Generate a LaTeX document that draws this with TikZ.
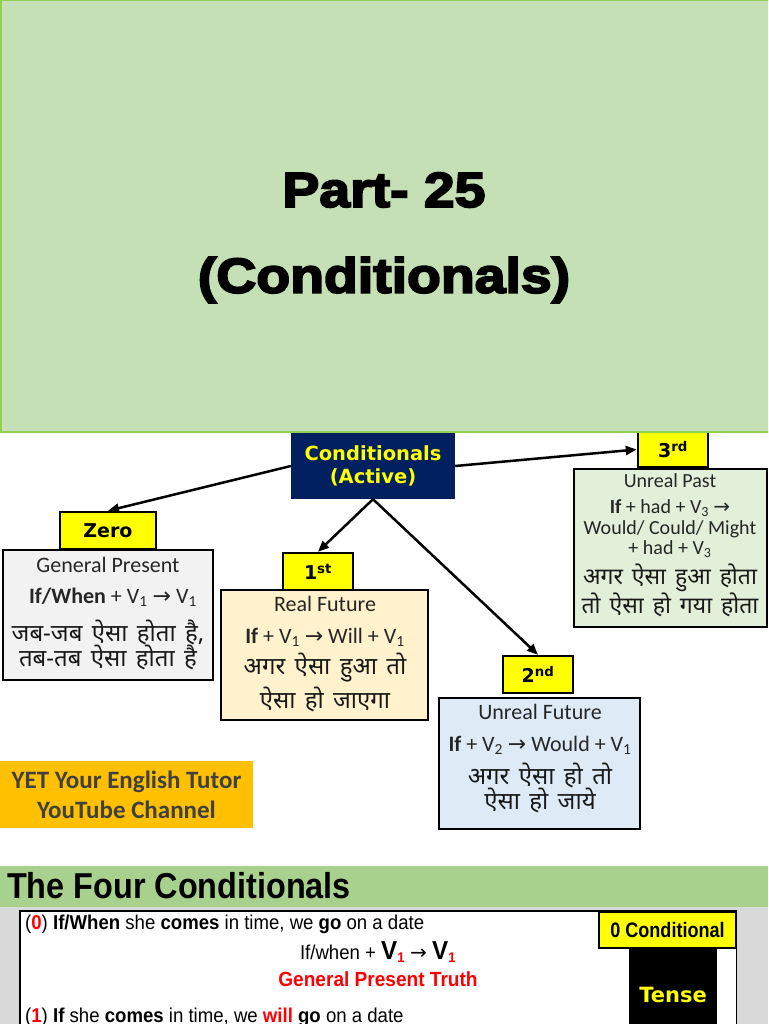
\documentclass[tikz,border=0pt]{standalone}
\usepackage{fontspec}
\usetikzlibrary{arrows.meta}
\setmainfont{Carlito}
\newfontfamily\hindi[Script=Devanagari,WordSpace=1.8]{Noto Sans}
\newfontfamily\hinditight[Script=Devanagari,WordSpace=1.5]{Noto Sans}
\newfontfamily\verd{DejaVu Sans}
\newfontfamily\blackfont[FakeBold=4,FakeStretch=1.13]{Liberation Sans Bold}
\newfontfamily\condb[FakeStretch=0.9]{Liberation Sans Bold}
\newfontfamily\condc[FakeStretch=0.86]{Liberation Sans Bold}
\newfontfamily\tah[FakeStretch=0.93]{Liberation Sans}
\definecolor{topgreen}{RGB}{197,224,180}
\definecolor{topborder}{RGB}{146,208,80}
\definecolor{navy}{RGB}{0,32,96}
\definecolor{lblyellow}{RGB}{255,255,0}
\definecolor{zerofill}{RGB}{242,242,242}
\definecolor{onefill}{RGB}{255,242,204}
\definecolor{twofill}{RGB}{222,235,247}
\definecolor{threefill}{RGB}{226,240,217}
\definecolor{yetfill}{RGB}{255,192,0}
\definecolor{yettext}{RGB}{64,64,64}
\definecolor{barfill}{RGB}{169,209,142}
\definecolor{grayfill}{RGB}{217,217,217}
\definecolor{redtxt}{RGB}{255,0,0}
\newcommand\myarr{{\verd →}}
\newcommand\vsub[1]{V\textsubscript{#1}}
\tikzset{
  lbl/.style={draw=black, line width=2.5, fill=lblyellow, inner sep=0, font=\verd\bfseries\fontsize{19}{22}\selectfont},
  card/.style={draw=black, line width=2.5, inner sep=0},
  txt/.style={inner sep=0, text=black!85, font=\fontsize{22}{26}\selectfont},
  txts/.style={inner sep=0, text=black!85, font=\fontsize{20}{22}\selectfont},
  hin/.style={inner sep=0, text=black!90, font=\hindi\fontsize{24}{28}\selectfont},
  hins/.style={inner sep=0, text=black!90, font=\hinditight\fontsize{23}{26}\selectfont},
  arr/.style={line width=2.5, -{Triangle[length=11,width=9]}},
  tahtxt/.style={inner sep=0, font=\tah\fontsize{20}{24}\selectfont},
}
\begin{document}
\begin{tikzpicture}[x=1pt,y=-1pt]
\useasboundingbox (0,0) rectangle (768,1024);
\clip (0,0) rectangle (768,1024);
\fill[white] (0,0) rectangle (768,1024);

% centre node
\node[fill=navy, minimum width=164, minimum height=66, inner sep=0, align=center,
      text=lblyellow, font=\verd\bfseries\fontsize{19.5}{23}\selectfont] (cond) at (373,466) {Conditionals\\(Active)};

% zero
\node[lbl, minimum width=96, minimum height=37] (l0) at (108,530.5) {Zero};
\node[card, fill=zerofill, minimum width=210, minimum height=130] (b0) at (108,615) {};
\node[txt] (b0a) at (108,565) {General Present};
\node[txt] (b0b) at (113,597) {\textbf{If/When} + \vsub{1} \myarr{} \vsub{1}};
\node[hin] (b0c) at (108,632) {जब-जब ऐसा होता है,};
\node[hin] (b0d) at (108,657) {तब-तब ऐसा होता है};

% first
\node[lbl, minimum width=70, minimum height=37] (l1) at (318,571.5) {1\textsuperscript{st}};
\node[card, fill=onefill, minimum width=207, minimum height=130] (b1) at (324.5,655) {};
\node[txt] (b1a) at (325,604) {Real Future};
\node[txt] (b1b) at (325,637) {\textbf{If} + \vsub{1} \myarr{} Will + \vsub{1}};
\node[hin] (b1c) at (325,668) {अगर ऐसा हुआ तो};
\node[hin] (b1d) at (325,699) {ऐसा हो जाएगा};

% second
\node[lbl, minimum width=70, minimum height=37] (l2) at (538,674.5) {2\textsuperscript{nd}};
\node[card, fill=twofill, minimum width=201, minimum height=131] (b2) at (539.5,763.5) {};
\node[txt] (b2a) at (540,712) {Unreal Future};
\node[txt] (b2b) at (540,745) {\textbf{If} + \vsub{2} \myarr{} Would + \vsub{1}};
\node[hin] (b2c) at (540,775) {अगर ऐसा हो तो};
\node[hin] (b2d) at (540,800) {ऐसा हो जाये};

% third
\node[lbl, minimum width=70, minimum height=36] (l3) at (673,449.5) {3\textsuperscript{rd}};
\node[card, fill=threefill, minimum width=193, minimum height=158] (b3) at (670.5,548) {};
\node[txts] (b3a) at (670,481) {Unreal Past};
\node[txts] (b3b) at (670,508) {\textbf{If} + had + \vsub{3} \myarr};
\node[txts] (b3c) at (670,529) {Would/ Could/ Might};
\node[txts] (b3d) at (670,549) {+ had + \vsub{3}};
\node[hins] (b3e) at (670,578) {अगर ऐसा हुआ होता};
\node[hins] (b3f) at (670,605) {तो ऐसा हो गया होता};

% arrows
\draw[arr] (cond.west) -- (l0.north);
\draw[arr] (cond.south) -- (l1.north);
\draw[arr] (cond.south) -- (l2.north);
\draw[arr] (cond.east) -- (l3.west);

% YET box
\node[fill=yetfill, minimum width=253, minimum height=67, inner sep=0, align=center,
      text=yettext, font=\bfseries\fontsize{25}{30}\selectfont] (yet) at (126.5,794.5) {YET Your English Tutor\\YouTube Channel};

% top green region
\filldraw[fill=topgreen, draw=topborder, line width=1.5] (0.75,0.75) rectangle (770,432);
\node[inner sep=0, font=\blackfont\fontsize{49}{52}\selectfont] (t1) at (384,190) {Part- 25};
\node[inner sep=0, font=\blackfont\fontsize{49}{52}\selectfont] (t2) at (384,280) {(Conditionals)};

% bottom section
\fill[barfill] (0,866) rectangle (768,907);
\node[anchor=west, inner sep=0, font=\condb\fontsize{36}{40}\selectfont] (bar) at (7,886) {The Four Conditionals};
\fill[grayfill] (0,907) rectangle (768,1024);
\filldraw[fill=white, draw=black, line width=1.5] (20,911) rectangle (736.5,1040);
\node[tahtxt, anchor=west] (s0) at (25,924) {(\textcolor{redtxt}{\textbf{0}}) \textbf{If/When} she \textbf{comes} in time, we \textbf{go} on a date};
\node[tahtxt] (f0) at (378,952) {If/when + {\bfseries\fontsize{26}{28}\selectfont V}\textsubscript{\textcolor{redtxt}{\textbf{1}}} {\verd →} {\bfseries\fontsize{26}{28}\selectfont V}\textsubscript{\textcolor{redtxt}{\textbf{1}}}};
\node[tahtxt, text=redtxt, font=\tah\bfseries\fontsize{20.5}{24}\selectfont] (g0) at (378,979) {General Present Truth};
\node[tahtxt, anchor=west] (s1) at (25,1017) {(\textcolor{redtxt}{\textbf{1}}) \textbf{If} she \textbf{comes} in time, we \textcolor{redtxt}{\textbf{will}} \textbf{go} on a date};
\node[fill=black, minimum width=88, minimum height=80, inner sep=0] (tb) at (673,988) {};
\node[inner sep=0, text=lblyellow, font=\verd\bfseries\fontsize{21}{24}\selectfont] (tt) at (673,995) {Tense};
\node[draw=black, line width=1.5, fill=lblyellow, minimum width=137, minimum height=36, inner sep=0,
      font=\condc\fontsize{21}{24}\selectfont] (c0) at (667.5,930) {0 Conditional};
\end{tikzpicture}
\end{document}
